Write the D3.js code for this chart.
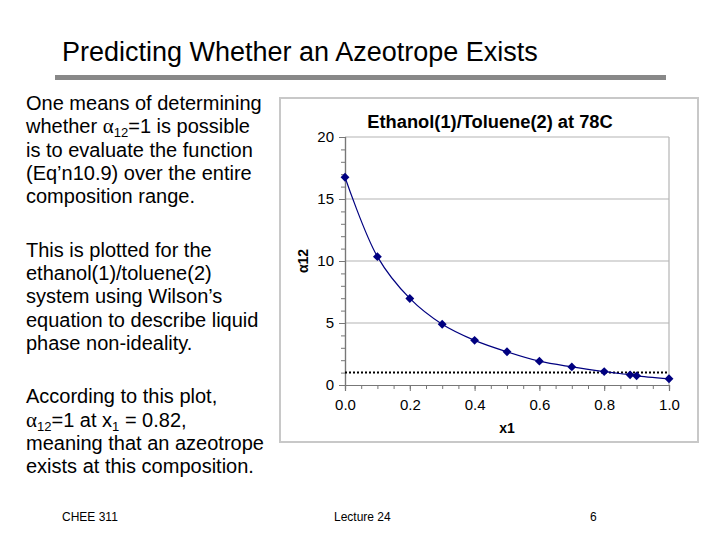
<!DOCTYPE html>
<html>
<head>
<meta charset="utf-8">
<script src="https://cdn.jsdelivr.net/npm/d3@7"></script>
<style>
  body { margin: 0; background: #fff; }
  svg { display: block; font-family: "Liberation Sans", Arial, sans-serif; }
</style>
</head>
<body>
<div id="slide"></div>
<script>
// 組成と相対揮発度
const x1 = [0, 0.1, 0.2, 0.3, 0.4, 0.5, 0.6, 0.7, 0.8, 0.88, 0.9, 1.0];
const alpha12 = [16.75, 10.35, 6.98, 4.9, 3.6, 2.68, 1.92, 1.46, 1.08, 0.82, 0.74, 0.5];
const refX = [0, 1];
const refY = [1, 1];
const xTicks = [0, 0.2, 0.4, 0.6, 0.8, 1.0];
const yTicks = [0, 5, 10, 15, 20];

const svg = d3.select("#slide").append("svg")
    .attr("width", 720)
    .attr("height", 540);

// スライドタイトル
svg.append("text")
    .attr("x", 62).attr("y", 61)
    .attr("font-size", 27)
    .text("Predicting Whether an Azeotrope Exists");

svg.append("rect")
    .attr("x", 55).attr("y", 75)
    .attr("width", 611).attr("height", 5)
    .attr("fill", "#888");

// 左側の説明文
const lines = [
  {y: 110, parts: [["One means of determining"]]},
  {y: 133, parts: [["whether "], ["α", "a"], ["12", "s"], ["=1 is possible"]]},
  {y: 157, parts: [["is to evaluate the function"]]},
  {y: 180, parts: [["(Eq’n10.9) over the entire"]]},
  {y: 203, parts: [["composition range."]]},
  {y: 257, parts: [["This is plotted for the"]]},
  {y: 280, parts: [["ethanol(1)/toluene(2)"]]},
  {y: 303, parts: [["system using Wilson’s"]]},
  {y: 327, parts: [["equation to describe liquid"]]},
  {y: 350, parts: [["phase non-ideality."]]},
  {y: 403, parts: [["According to this plot,"]]},
  {y: 427, parts: [["α", "a"], ["12", "s"], ["=1 at x"], ["1", "s"], [" = 0.82,"]]},
  {y: 450, parts: [["meaning that an azeotrope"]]},
  {y: 473, parts: [["exists at this composition."]]}
];

lines.forEach(function(l) {
  const t = svg.append("text")
      .attr("x", 26).attr("y", l.y)
      .attr("font-size", 20);
  let sub = false;
  l.parts.forEach(function(p) {
    const s = t.append("tspan").text(p[0]);
    if (p[1] == "a") s.attr("font-family", "Liberation Serif, serif").attr("font-size", 21);
    if (p[1] == "s") {
      s.attr("font-size", 13).attr("dy", 4);
      sub = true;
    } else if (sub) {
      // ベースラインを戻す
      s.attr("dy", -4);
      sub = false;
    }
  });
});

// フッター
svg.append("text").attr("x", 62).attr("y", 521).attr("font-size", 12).text("CHEE 311");
svg.append("text").attr("x", 334).attr("y", 521).attr("font-size", 12).text("Lecture 24");
svg.append("text").attr("x", 590).attr("y", 521).attr("font-size", 12).text("6");

// グラフの枠
svg.append("rect")
    .attr("x", 280).attr("y", 98)
    .attr("width", 418).attr("height", 344)
    .attr("fill", "#fff")
    .attr("stroke", "#c8c8c8")
    .attr("stroke-width", 2);

const margin = {top: 137, right: 51, bottom: 155, left: 345};
const width = 720 - margin.left - margin.right;
const height = 540 - margin.top - margin.bottom;

const g = svg.append("g")
    .attr("transform", "translate(" + margin.left + "," + margin.top + ")");

const x = d3.scaleLinear().domain([0, 1]).range([0, width]);
const y = d3.scaleLinear().domain([0, 20]).range([height, 0]);

// グリッド線
g.selectAll(".grid")
    .data(yTicks.slice(1))
    .enter().append("line")
    .attr("x1", 0).attr("x2", width)
    .attr("y1", d => y(d)).attr("y2", d => y(d))
    .attr("stroke", "#b4b4b4").attr("stroke-width", 1.2);

g.append("line")
    .attr("x1", width).attr("x2", width)
    .attr("y1", 0).attr("y2", height)
    .attr("stroke", "#b4b4b4").attr("stroke-width", 1.2);

// X軸
const xMinor = g.append("g")
    .attr("transform", "translate(0," + height + ")")
    .call(d3.axisBottom(x).ticks(20).tickSize(4).tickFormat(""));
const xAxis = g.append("g")
    .attr("transform", "translate(0," + height + ")")
    .call(d3.axisBottom(x).tickValues(xTicks).tickSize(6).tickPadding(8).tickFormat(d3.format(".1f")));

// Y軸
const yMinor = g.append("g")
    .call(d3.axisLeft(y).ticks(20).tickSize(4).tickFormat(""));
const yAxis = g.append("g")
    .call(d3.axisLeft(y).tickValues(yTicks).tickSize(6).tickPadding(5));

[xMinor, xAxis, yMinor, yAxis].forEach(function(a) {
  a.selectAll("path").attr("stroke", "#777").attr("stroke-width", 1.2);
  a.selectAll("line").attr("stroke", "#777");
  a.selectAll("text")
      .attr("font-family", "Liberation Sans, Arial, sans-serif")
      .attr("font-size", 15)
      .attr("fill", "#000");
});

// α=1 の点線
const pts = refX.map((d, i) => [d, refY[i]]);
g.append("path")
    .datum(pts)
    .attr("d", d3.line().x(d => x(d[0])).y(d => y(d[1])))
    .attr("stroke", "#000")
    .attr("stroke-width", 2)
    .attr("stroke-dasharray", "2,2")
    .attr("fill", "none");

// 曲線
const data = x1.map((d, i) => ({x: d, v: alpha12[i]}));
g.append("path")
    .datum(data)
    .attr("d", d3.line().curve(d3.curveCatmullRom.alpha(0.5)).x(d => x(d.x)).y(d => y(d.v)))
    .attr("stroke", "#000080")
    .attr("stroke-width", 1.2)
    .attr("fill", "none");

g.selectAll(".pt")
    .data(data)
    .enter().append("path")
    .attr("class", "pt")
    .attr("transform", d => "translate(" + x(d.x) + "," + y(d.v) + ")")
    .attr("d", d3.symbol().type(d3.symbolDiamond2).size(50))
    .attr("fill", "#000080");

// タイトルとラベル
svg.append("text")
    .attr("x", 490).attr("y", 128)
    .attr("text-anchor", "middle")
    .attr("font-size", 18.3)
    .attr("font-weight", "bold")
    .text("Ethanol(1)/Toluene(2) at 78C");

svg.append("text")
    .attr("x", margin.left + width / 2).attr("y", 433)
    .attr("text-anchor", "middle")
    .attr("font-size", 14)
    .attr("font-weight", "bold")
    .text("x1");

svg.append("text")
    .attr("transform", "translate(308," + (margin.top + height / 2) + ") rotate(-90)")
    .attr("text-anchor", "middle")
    .attr("font-size", 14)
    .attr("font-weight", "bold")
    .text("α12");
</script>
</body>
</html>
